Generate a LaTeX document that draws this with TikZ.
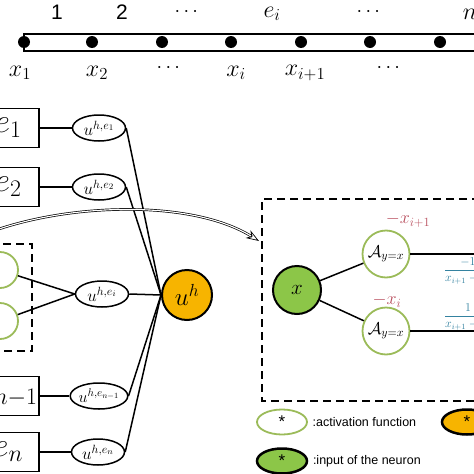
\documentclass[tikz,border=0pt]{standalone}
\usepackage{fix-cm}
\usepackage{amsmath,amssymb}
\usepackage{fontspec}
\newfontfamily\sanslabel{Liberation Sans}
\usepackage{xcolor}
\usetikzlibrary{arrows.meta,positioning,shapes.geometric}

\definecolor{huorange}{RGB}{247,180,0}
\definecolor{ingreen}{RGB}{140,198,72}
\definecolor{actgreen}{RGB}{155,187,89}
\definecolor{negred}{RGB}{185,80,95}
\definecolor{fracteal}{RGB}{52,130,160}

\begin{document}
\begin{tikzpicture}[
    x=1pt, y=-1pt,
    line width=1.5pt,
    fs/.style={font=\fontsize{#1}{#1}\selectfont},
    sfs/.style={font=\sanslabel\fontsize{#1}{#1}\selectfont},
    tick/.style={fs=#1, inner sep=1pt},
    dot/.style={circle, fill, inner sep=0pt, minimum size=12pt},
    ebox/.style={draw, minimum width=62pt, minimum height=39pt, inner sep=0pt, fs=34},
    uell/.style={draw, ellipse, minimum width=53pt, minimum height=26pt, inner sep=0pt, fs=17},
    actnode/.style={draw=actgreen, circle, fill=white, minimum size=47pt, inner sep=0pt, line width=1.8pt},
    innode/.style={draw, circle, fill=ingreen, minimum size=48pt, inner sep=0pt, line width=2pt},
    hnode/.style={draw, circle, fill=huorange, minimum size=50pt, inner sep=0pt, line width=2pt},
    keyell/.style={draw, ellipse, minimum width=50pt, minimum height=25pt, inner sep=0pt, sfs=17},
    keytxt/.style={right=4pt of #1, sfs=12.5, inner sep=0pt},
    frame/.style={dashed, dash pattern=on 8pt off 5pt, line width=2pt}
]
\useasboundingbox (0,0) rectangle (474,474);
\clip (0,0) rectangle (474,474);

% segments and nodes of the line
\draw (480,34) -- (24,34) -- (24,51) -- (480,51);
\foreach \px [count=\k] in {24,92,162,231,301,370,440}
  \node[dot] (d\k) at (\px,42) {};
\node[sfs=21, inner sep=1pt] (s1) at (57,12) {1};
\node[sfs=21, inner sep=1pt] (s2) at (122,12) {2};
\node[tick=20] (sa) at (188,12) {$\cdots$};
\node[tick=24] (si) at (272,14) {$e_i$};
\node[tick=20] (sb) at (370,12) {$\cdots$};
\node[tick=24] (sn) at (470,14) {$n$};
\node[fs=24] (x1) at (20,73) {$x_1$};
\node[fs=24] (x2) at (97,73) {$x_2$};
\node[fs=20] (xa) at (170,68) {$\cdots$};
\node[fs=24] (xi) at (236,73) {$x_i$};
\node[fs=24] (xj) at (305,73) {$x_{i+1}$};
\node[fs=20] (xb) at (390,68) {$\cdots$};

% element networks
\node[ebox] (e1) at (8,128) {$e_1$};
\node[ebox] (e2) at (8,187) {$e_2$};
\node[ebox] (em) at (8,396) {$e_{n-1}$};
\node[ebox] (en) at (8,452) {$e_n$};
\node[uell] (u1) at (99,128) {$u^{h,e_1}$};
\node[uell] (u2) at (99,187) {$u^{h,e_2}$};
\node[uell] (ui) at (102,294) {$u^{h,e_i}$};
\node[uell, fs=16] (um) at (99,396) {$u^{h,e_{n-1}}$};
\node[uell] (un) at (98,452) {$u^{h,e_n}$};
\node[hnode, fs=25] (uh) at (187,295) {$u^h$};
\node[actnode, minimum size=36pt] (g1) at (0,270) {};
\node[actnode, minimum size=36pt] (g2) at (0,321) {};
\draw[frame] (-10,244) -- (32,244) -- (32,351) -- (-10,351);

\draw (e1) -- (u1);
\draw (e2) -- (u2);
\draw (em) -- (um);
\draw (en) -- (un);
\draw (g1) -- (ui.west);
\draw (g2) -- (ui.west);
\foreach \u in {u1,u2,ui,um,un}
  \draw (\u.east) -- (uh.west);

% zoom into one element
\coordinate (zs) at (-20,236);
\coordinate (ze) at (259,241);
\draw[double, double distance=1.1pt, line width=0.7pt, -{Stealth[open, length=13pt, width=9pt]}]
  (zs) .. controls (60,203) and (190,198) .. (ze);

\draw[frame] (480,199) -- (262,199) -- (262,401) -- (480,401);
\node[innode, fs=21] (x) at (297,290) {$x$};
\node[actnode, fs=17] (a1) at (386,254) {$\mathcal{A}_{y=x}$};
\node[actnode, fs=17] (a2) at (386,331) {$\mathcal{A}_{y=x}$};
\coordinate (o1) at (480,254);
\coordinate (o2) at (480,331);
\draw (x) -- (a1);
\draw (x) -- (a2);
\draw (a1) -- (o1);
\draw (a2) -- (o2);
\node[fs=18, text=negred] (b1) at (408,220) {$-x_{i+1}$};
\node[fs=18, text=negred] (b2) at (387,301) {$-x_i$};
\node[fs=12, text=fracteal] (w1) at (468,271) {$\dfrac{-1}{x_{i+1}-x_i}$};
\node[fs=12, text=fracteal] (w2) at (468,317) {$\dfrac{1}{x_{i+1}-x_i}$};

% key
\node[keyell, draw=actgreen, line width=1.8pt] (k1) at (282,422) {*};
\node[keytxt=k1] (t1) {:activation function};
\node[keyell, fill=huorange, line width=2.5pt] (k2) at (467,422) {*};
\node[keyell, fill=ingreen, line width=2.5pt] (k3) at (282,461) {*};
\node[keytxt=k3] (t3) {:input of the neuron};
\end{tikzpicture}
\end{document}
